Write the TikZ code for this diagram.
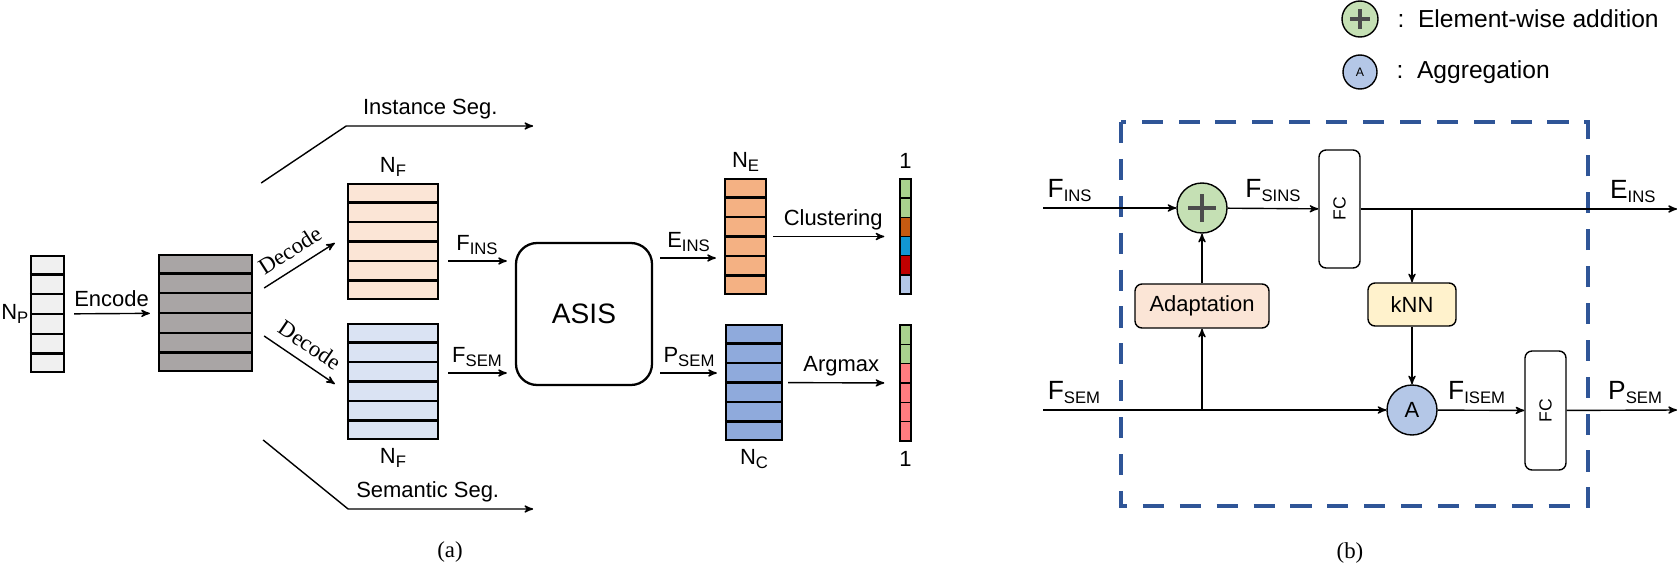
\documentclass[tikz,border=0pt]{standalone}
\usepackage{fontspec}
\setmainfont{Liberation Sans}
\newfontfamily\seriffont{Liberation Serif}
\usetikzlibrary{arrows, calc, positioning}

\definecolor{insfill}{HTML}{FBE5D6}
\definecolor{semfill}{HTML}{DAE3F3}
\definecolor{embfill}{HTML}{F4B183}
\definecolor{probfill}{HTML}{8FAADC}
\definecolor{encfill}{HTML}{A9A5A5}
\definecolor{inpfill}{HTML}{F0F0F0}
\definecolor{cgreen}{HTML}{A9D18E}
\definecolor{cbrown}{HTML}{C55A11}
\definecolor{cblue}{HTML}{1297D3}
\definecolor{cred}{HTML}{C00000}
\definecolor{clblue}{HTML}{B4C7E7}
\definecolor{cpink}{HTML}{FF7C80}
\definecolor{addfill}{HTML}{C5E0B4}
\definecolor{aggfill}{HTML}{B4C7E7}
\definecolor{knnfill}{HTML}{FFF2CC}
\definecolor{boxblue}{HTML}{2F5597}

\newcommand{\sub}[2]{#1{\fontsize{9.5}{9.5}\selectfont\raisebox{-0.45ex}{#2}}}
% stack of six rows: name, x, y, width, height, fill
\newcommand{\rowstack}[6]{%
  \node[stack, fill=#6, minimum width=#4*0.02cm, minimum height=#5*0.02cm] (#1) at (#2,#3) {};
  \foreach \k in {1,...,5}
    \draw[line width=1.3pt] ($(#1.north west)!\k/6!(#1.south west)$) -- ($(#1.north east)!\k/6!(#1.south east)$);
}

\begin{document}
\begin{tikzpicture}[x=0.02cm, y=-0.02cm, >=stealth', line width=0.8pt,
    font=\fontsize{12.5}{14}\selectfont]
    \tikzstyle{stack}=[draw=black, line width=1.3pt, inner sep=0pt]
    \tikzstyle{flow}=[->, shorten <=0.18cm, shorten >=0.16cm]
    \tikzstyle{block}=[draw=black, thick, rounded corners=4pt, inner sep=0pt]
    \tikzstyle{op}=[draw=black, thick, circle, inner sep=0pt]
    \tikzstyle{serif}=[font=\seriffont\fontsize{13}{14}\selectfont]
\useasboundingbox (0,0) rectangle (1680,565);

% (a)
\rowstack{inp}{47.5}{314}{33}{116}{inpfill}
\rowstack{enc}{205.5}{313}{93}{116}{encfill}
\rowstack{insfeat}{393}{241.5}{90}{115}{insfill}
\rowstack{semfeat}{393}{381.5}{90}{115}{semfill}
\rowstack{embed}{745.5}{236.5}{41}{115}{embfill}
\rowstack{prob}{754}{382.5}{56}{115}{probfill}
\node[block, line width=1.3pt, rounded corners=12pt, minimum width=136*0.02cm, minimum height=142*0.02cm,
      font=\fontsize{16}{18}\selectfont] (asis) at (584,314) {ASIS};

\foreach \c [count=\i] in {cgreen,cgreen,cbrown,cblue,cred,clblue}
  \draw[thick, fill=\c] (900,{179+(\i-1)*115/6}) rectangle (911,{179+\i*115/6});
\foreach \c [count=\i] in {cgreen,cgreen,cpink,cpink,cpink,cpink}
  \draw[thick, fill=\c] (900,{325+(\i-1)*116/6}) rectangle (911,{325+\i*116/6});
\node[inner sep=0pt, minimum width=11*0.02cm, minimum height=115*0.02cm] (clust) at (905.5,236.5) {};
\node[inner sep=0pt, minimum width=11*0.02cm, minimum height=116*0.02cm] (label) at (905.5,383) {};

\node[left=0pt of inp, inner sep=0.5pt] {\sub{N}{P}};
\node[above=0pt of insfeat] {\sub{N}{F}};
\node[below=1pt of semfeat] {\sub{N}{F}};
\node[above=0pt of embed] {\sub{N}{E}};
\node[below=1pt of prob] {\sub{N}{C}};
\node[above=2pt of clust] {1};
\node[below=2pt of label] {1};

\draw[flow] (inp) -- node[above] {Encode} (enc);
\path (insfeat.east) ++(0,19.5) coordinate (fin);
\path (semfeat.east) ++(0,-8.5) coordinate (fsem);
\path (embed.west) ++(0,21.5) coordinate (ein);
\path (prob.west) ++(0,-9.5) coordinate (psem);
\draw[flow] (fin) -- node[above] {\sub{F}{INS}} (fin -| asis.west);
\draw[flow] (fsem) -- node[above] {\sub{F}{SEM}} (fsem -| asis.west);
\draw[flow, shorten <=0.14cm] (ein -| asis.east) -- node[above] {\sub{E}{INS}} (ein);
\draw[flow, shorten <=0.14cm] (psem -| asis.east) -- node[above] {\sub{P}{SEM}} (psem);
\draw[flow, shorten <=0.12cm, shorten >=0.3cm] (embed) -- node[above] {Clustering} (clust);
\draw[flow, shorten <=0.1cm, shorten >=0.3cm] (prob) -- node[above] {Argmax} (label);

\draw[->] ($(enc.east)+(11,-25)$) -- node[sloped, above=2pt, serif] {Decode} ($(insfeat.west)+(-12,1.5)$);
\draw[->] ($(enc.east)+(11,23)$) -- node[sloped, above=2pt, serif] {Decode} ($(semfeat.west)+(-12,2.5)$);
\draw[->] ($(enc.east)+(8,-130)$) -- ++(85,-57) -- node[above, pos=0.45] {Instance Seg.} ++(187,0);
\draw[->] ($(enc.east)+(10,127)$) -- ++(85,69) -- node[above, pos=0.43] {Semantic Seg.} ++(185,0);
\node[serif] at (450,552) {(a)};

% (b)
\draw[boxblue, line width=2.2pt, dash pattern=on 12pt off 9pt] (1121,122) rectangle (1588,506);
\node[op, fill=addfill, minimum size=50*0.02cm] (add) at (1202,208) {};
\draw[line width=2.2pt, black!70] (add.center) ++(-14,0) -- ++(28,0) (add.center) ++(0,-14) -- ++(0,28);
\node[block, fill=insfill, minimum width=134*0.02cm, minimum height=44*0.02cm] (adapt) at (1202,306) {Adaptation};
\node[block, minimum width=41*0.02cm, minimum height=118*0.02cm] (fc1) at (1339.5,209) {};
\node[rotate=90, font=\fontsize{10}{10}\selectfont] at (fc1) {FC};
\node[block, fill=knnfill, minimum width=88*0.02cm, minimum height=43*0.02cm] (knn) at (1412,304.5) {kNN};
\node[op, fill=aggfill, minimum size=50*0.02cm] (agg) at (1412,410) {A};
\node[block, minimum width=41*0.02cm, minimum height=119*0.02cm] (fc2) at (1545.5,410.5) {};
\node[rotate=90, font=\fontsize{10}{10}\selectfont] at (fc2) {FC};

\coordinate (finsin) at (1043,208);
\coordinate (fsemin) at (1043,410);
\coordinate (einsout) at (1677,209);
\coordinate (psemout) at (1677,410);
\coordinate (split) at (knn.north |- fc1.east);

\draw[->] (finsin) -- node[above, pos=0.2, font=\fontsize{15}{16}\selectfont] {\sub{F}{INS}} (add);
\draw[->] (add) -- node[above, font=\fontsize{15}{16}\selectfont] {\sub{F}{SINS}} (fc1);
\draw[->] (fc1.east) -- node[above, pos=0.86, font=\fontsize{15}{16}\selectfont] {\sub{E}{INS}} (einsout);
\draw[->] (split) -- (knn);
\draw[->] (knn) -- (agg);
\draw[->] (adapt) -- (add);
\draw[->] (fsemin) -- node[above, pos=0.09, font=\fontsize{15}{16}\selectfont] {\sub{F}{SEM}} (agg);
\draw[->] (adapt.south |- fsemin) -- (adapt);
\draw[->] (agg) -- node[above, pos=0.45, font=\fontsize{15}{16}\selectfont] {\sub{F}{ISEM}} (fc2);
\draw[->] (fc2) -- node[above, pos=0.62, font=\fontsize{15}{16}\selectfont] {\sub{P}{SEM}} (psemout);
\node[serif] at (1350,553) {(b)};

% legend
\node[op, fill=addfill, minimum size=36*0.02cm] (addkey) at (1360,19) {};
\draw[line width=1.8pt, black!70] (addkey.center) ++(-10,0) -- ++(20,0) (addkey.center) ++(0,-10) -- ++(0,20);
\node[op, fill=aggfill, minimum size=34*0.02cm, font=\fontsize{7}{7}\selectfont] (aggkey) at (1360,72) {A};
\node[right=7pt of addkey, font=\fontsize{14}{16}\selectfont] {:\ \ Element-wise addition};
\node[right=7pt of aggkey, font=\fontsize{14}{16}\selectfont] {:\ \ Aggregation};
\end{tikzpicture}
\end{document}
